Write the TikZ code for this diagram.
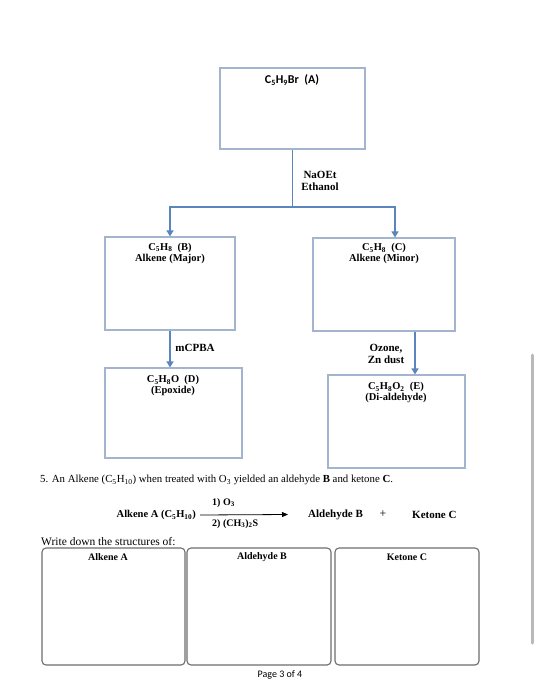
\documentclass[tikz,border=0pt]{standalone}
\usepackage{fontspec}
\setmainfont{Liberation Serif}
\newfontfamily\calib{Carlito}
\usetikzlibrary{arrows.meta,calc}
\definecolor{boxblue}{HTML}{A3B5CE}
\definecolor{arrblue}{HTML}{5A86BC}
\definecolor{framegray}{HTML}{6E6E6E}
\tikzset{
  flowbox/.style={draw=boxblue,line width=1.2pt,rectangle,inner sep=0pt},
  flow/.style={draw=arrblue,line width=1.8pt},
  flowarr/.style={flow,-{Triangle[width=7pt,length=6pt]}},
  flowtxt/.style={inner sep=0pt,align=center,font=\bfseries\fontsize{10.5}{11}\selectfont},
  qtxt/.style={inner sep=0pt,font=\fontsize{10.8}{12}\selectfont},
  qbold/.style={inner sep=0pt,font=\bfseries\fontsize{10.5}{12}\selectfont},
  lblbold/.style={inner sep=0pt,font=\bfseries\fontsize{10}{11}\selectfont},
  ansbox/.style={draw=framegray,line width=1.1pt,rounded corners=4pt,rectangle,inner sep=0pt},
}
\begin{document}
\begin{tikzpicture}[x=1pt,y=-1pt]
\useasboundingbox (0,0) rectangle (539,700);
\fill[white] (0,0) rectangle (539,700);
% flowchart boxes
\node[flowbox,minimum width=145pt,minimum height=81pt] (A) at (292.5,108.5) {};
\node[flowbox,minimum width=130pt,minimum height=93pt] (B) at (170,283.5) {};
\node[flowbox,minimum width=142pt,minimum height=93pt] (C) at (384,284.5) {};
\node[flowbox,minimum width=137pt,minimum height=90pt] (D) at (173.5,413) {};
\node[flowbox,minimum width=137pt,minimum height=93pt] (E) at (396.5,421.5) {};
% labels
\node[flowtxt,font=\calib\bfseries\fontsize{12}{12}\selectfont] (Atxt) at (292,80) {C\textsubscript{5}H\textsubscript{9}Br\ \ (A)};
\node[flowtxt] (Btxt) at (170,253) {C\textsubscript{5}H\textsubscript{8}\ \ (B)\\Alkene (Major)};
\node[flowtxt] (Ctxt) at (384,253.5) {C\textsubscript{5}H\textsubscript{8}\ \ (C)\\Alkene (Minor)};
\node[flowtxt] (Dtxt) at (173,385.5) {C\textsubscript{5}H\textsubscript{8}O\ \ (D)\\(Epoxide)};
\node[flowtxt] (Etxt) at (396,392.5) {C\textsubscript{5}H\textsubscript{8}O\textsubscript{2}\ \ (E)\\(Di-aldehyde)};
\node[flowtxt,font=\bfseries\fontsize{11}{12}\selectfont] (naoet) at (320,181) {NaOEt\\Ethanol};
\node[flowtxt,font=\bfseries\fontsize{11}{12}\selectfont] (mcpba) at (195,348) {mCPBA};
\node[flowtxt,font=\bfseries\fontsize{11}{12}\selectfont] (ozone) at (386,354) {Ozone,\\Zn dust};
% connectors
\coordinate (split) at (292.5,207);
\draw[flow] (A.south) -- (split);
\draw[flowarr] (split) -| (B.north);
\draw[flowarr] (split) -| ([xshift=11pt]C.north);
\draw[flowarr] (B.south) -- (B.south |- D.north);
\draw[flowarr] ([xshift=31pt]C.south) -- ([xshift=31pt]C.south |- E.north);
% question
\node[qtxt,anchor=west] (q5) at (40,480) {5. An Alkene (C\textsubscript{5}H\textsubscript{10}) when treated with O\textsubscript{3} yielded an aldehyde \textbf{B} and ketone \textbf{C}.};
\node[qbold,anchor=east] (alkA) at (196,515) {Alkene A (C\textsubscript{5}H\textsubscript{10})};
\coordinate (arrend) at (288,514.5);
\draw[line width=0.8pt,-{Triangle[width=5pt,length=6pt]}] (alkA.east) ++(4pt,0) coordinate (arrstart) -- (arrend);
\node[qbold,font=\bfseries\fontsize{10}{11}\selectfont,anchor=west] (r1) at (212,503) {1) O\textsubscript{3}};
\node[qbold,font=\bfseries\fontsize{10}{11}\selectfont,anchor=west] (r2) at (212,524) {2) (CH\textsubscript{3})\textsubscript{2}S};
\node[qbold,font=\bfseries\fontsize{11}{12}\selectfont,anchor=west] (aldB) at (308,515) {Aldehyde B};
\node[qtxt,font=\fontsize{12}{12}\selectfont] (plus) at (383,514) {+};
\node[qbold,font=\bfseries\fontsize{11}{12}\selectfont,anchor=west] (ketC) at (412,515) {Ketone C};
\node[qtxt,font=\fontsize{11.5}{12}\selectfont,anchor=west] (write) at (41,541.5) {Write down the structures of:};
% answer boxes
\node[ansbox,minimum width=143pt,minimum height=117pt] (b1) at (113.5,606.5) {};
\node[ansbox,minimum width=144pt,minimum height=117pt] (b2) at (259,606.5) {};
\node[ansbox,minimum width=144pt,minimum height=117pt] (b3) at (407,606.5) {};
\node[lblbold] (l1) at (108,557) {Alkene A};
\node[lblbold] (l2) at (262,557) {Aldehyde B};
\node[lblbold] (l3) at (407,557) {Ketone C};
\node[inner sep=0pt,font=\calib\fontsize{10}{11}\selectfont] (page) at (280,675) {Page 3 of 4};
% scrollbar
\draw[line width=3pt,color=gray!55,line cap=round] (532,355) -- (532,643);
\end{tikzpicture}
\end{document}
